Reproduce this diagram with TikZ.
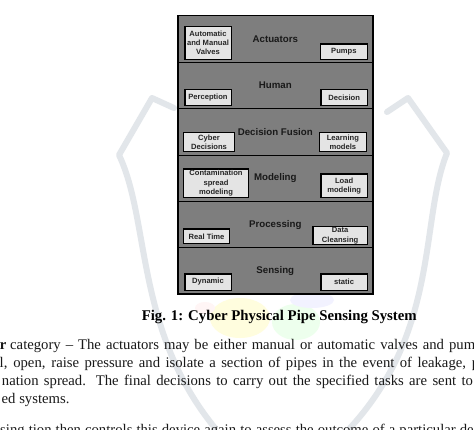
\documentclass[tikz,border=0pt]{standalone}
\usepackage{fontspec}
\setmainfont{Liberation Serif}
\newfontfamily\arialfont{Liberation Sans}
\definecolor{layergray}{HTML}{7E7E7E}
\definecolor{boxgray}{HTML}{E4E4E4}
\definecolor{wmgray}{HTML}{E2E6EA}
\begin{document}
\begin{tikzpicture}[x=1pt,y=-1pt,
  layer/.style={draw=black, line width=1pt, fill=layergray, minimum width=195pt, minimum height=46.4pt, inner sep=0pt, outer sep=0pt},
  ltitle/.style={font=\arialfont\bfseries\fontsize{9.7}{11}\selectfont, inner sep=0pt, anchor=base, text=black!90},
  item/.style={draw=black, line width=1.2pt, fill=boxgray, inner sep=0pt, align=center, font=\arialfont\bfseries\fontsize{7.6}{9.2}\selectfont, text=black!85},
  body/.style={font=\fontsize{14.7}{17}\selectfont, inner sep=0pt, anchor=base west, text=black!90},
  wm/.style={draw=wmgray, line width=6pt, line cap=round, line join=round},
]
\clip (0,0) rectangle (474,429);
\fill[white] (0,0) rectangle (474,429);
% faint watermark
\fill[yellow!13] (240,318) ellipse [x radius=30pt, y radius=20pt];
\fill[green!7] (296,322) ellipse [x radius=24pt, y radius=18pt];
\fill[blue!5] (312,300) ellipse [x radius=22pt, y radius=8pt];
\fill[red!4] (205,308) ellipse [x radius=10pt, y radius=6pt];
\draw[wm] (174,108) -- (152,98) -- (119,155) .. controls (150,220) and (135,330) .. (215,428);
\draw[wm] (387,112) -- (408,98) -- (447,153) .. controls (420,220) and (440,330) .. (350,428);
% layers
\node[layer] (L1) at (275.5,38.95) {};
\node[layer] (L2) at (275.5,85.4) {};
\node[layer] (L3) at (275.5,131.8) {};
\node[layer] (L4) at (275.5,178.2) {};
\node[layer] (L5) at (275.5,224.55) {};
\node[layer] (L6) at (275.5,270.9) {};
\draw[line width=1.4pt] (L1.north west) rectangle (L6.south east);
% titles
\node[ltitle] (t1) at (275.3,42.5) {Actuators};
\node[ltitle] (t2) at (275.3,88.5) {Human};
\node[ltitle] (t3) at (275.3,135.2) {Decision Fusion};
\node[ltitle] (t4) at (275.3,180.8) {Modeling};
\node[ltitle] (t5) at (275.3,227.0) {Processing};
\node[ltitle] (t6) at (275.3,273.4) {Sensing};
% boxes
\node[item, minimum width=46.2pt, minimum height=33.1pt] (valves) at (208,42.85) {Automatic\\and Manual\\Valves};
\node[item, minimum width=46.5pt, minimum height=15.5pt] (pumps) at (343.85,51.65) {Pumps};
\node[item, minimum width=46.2pt, minimum height=15.8pt] (perc) at (208,97.5) {Perception};
\node[item, minimum width=46.5pt, minimum height=15.8pt] (dec) at (344.15,97.5) {Decision};
\node[item, minimum width=51.4pt, minimum height=18.8pt] (cyber) at (209,142) {Cyber\\Decisions};
\node[item, minimum width=46.5pt, minimum height=18.8pt] (learn) at (342.85,142) {Learning\\models};
\node[item, minimum width=65.4pt, minimum height=28.5pt] (contam) at (216,183.15) {Contamination\\spread\\modeling};
\node[item, minimum width=46.5pt, minimum height=23.5pt] (load) at (344.15,185.65) {Load\\modeling};
\node[item, minimum width=46.4pt, minimum height=14.8pt] (real) at (206.5,236.3) {Real Time};
\node[item, minimum width=54.5pt, minimum height=18.1pt] (clean) at (340.15,235.65) {Data\\Cleansing};
\node[item, minimum width=46.2pt, minimum height=16.2pt] (dyn) at (208,282) {Dynamic};
\node[item, minimum width=46.5pt, minimum height=16.2pt] (stat) at (344.15,282) {static};
% caption
\node[inner sep=0pt, anchor=base, font=\bfseries\fontsize{14.8}{17}\selectfont] (cap) at (279.3,320.7) {Fig. 1: Cyber Physical Pipe Sensing System};
% body text
\node[body, anchor=base east] (l1a) at (6.5,349.5) {\textbf{Actuator}};
\node[body] (l1) at (10,349.5) {\spaceskip=0.2em plus 0.3em minus 0.05em\makebox[478pt][s]{category – The actuators may be either manual or automatic valves and pumps}};
\node[body] (l2) at (-0.5,367.5) {\makebox[479.5pt][s]{l, open, raise pressure and isolate a section of pipes in the event of leakage, p}};
\node[body] (l3) at (1.7,385.5) {\makebox[471pt][s]{nation spread. The final decisions to carry out the specified tasks are sent to}};
\node[body] (l4) at (1.5,403.5) {ed systems.};
\node[body] (l5) at (0,434.5) {\makebox[480pt][s]{sing tion then controls this device again to assess the outcome of a particular dec}};
\end{tikzpicture}
\end{document}
